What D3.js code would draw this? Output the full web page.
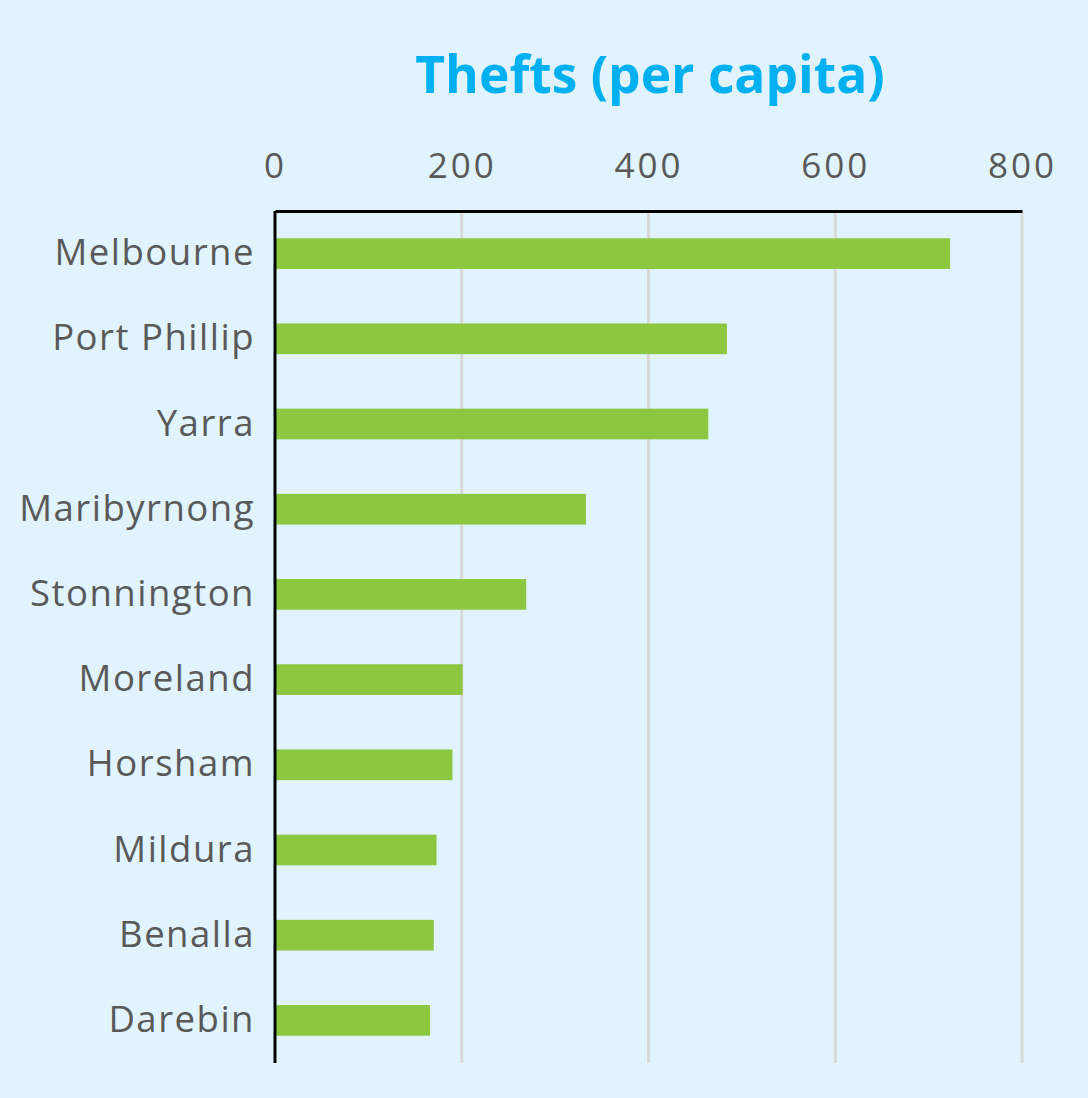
<!DOCTYPE html>
<html lang="en">
<head>
<meta charset="utf-8">
<title>Thefts (per capita)</title>
<script src="https://cdn.jsdelivr.net/npm/d3@7"></script>
<style>
  html, body { margin: 0; padding: 0; background: #e1f3fd; }
  svg { display: block; font-family: "Open Sans", Lato, sans-serif; }
</style>
</head>
<body>
<script>
// data
var councils = ["Melbourne", "Port Phillip", "Yarra", "Maribyrnong", "Stonnington",
                "Moreland", "Horsham", "Mildura", "Benalla", "Darebin"];
var thefts = [723, 484, 464, 333, 269, 201, 190, 173, 170, 166];
var ticks = [0, 200, 400, 600, 800];
var title = "Thefts (per capita)";

var W = 1088, H = 1098;
var m = { top: 211, right: 66, bottom: 35, left: 275 };

var svg = d3.select("body").append("svg")
  .attr("width", W)
  .attr("height", H);

svg.append("rect").attr("width", W).attr("height", H).attr("fill", "#e1f3fd");

var x = d3.scaleLinear().domain([0, 800]).range([m.left, W - m.right]);
var y = d3.scaleBand().domain(councils).range([m.top, H - m.bottom]).paddingInner(0.64).paddingOuter(0.32);

// gridlines
svg.append("g").selectAll("line")
  .data(ticks.slice(1))
  .enter().append("line")
  .attr("x1", function(d){ return x(d); })
  .attr("x2", function(d){ return x(d); })
  .attr("y1", m.top)
  .attr("y2", H - m.bottom)
  .attr("stroke", "#d9d9d9")
  .attr("stroke-width", 3);

// bars
svg.append("g").selectAll("rect")
  .data(councils)
  .enter().append("rect")
  .attr("x", x(0))
  .attr("y", function(d){ return y(d); })
  .attr("width", function(d, i){ return x(thefts[i]) - x(0); })
  .attr("height", y.bandwidth())
  .attr("fill", "#8dc63f");

// top axis
var xAxis = svg.append("g")
  .attr("transform", "translate(0," + m.top + ")")
  .call(d3.axisTop(x).tickValues(ticks).tickSize(0).tickPadding(33));
xAxis.select(".domain").attr("stroke", "#000").attr("stroke-width", 3);
xAxis.selectAll("text")
  .attr("fill", "#595959")
  .attr("font-size", "35px")
  .attr("letter-spacing", "3px")
  .attr("font-family", "'Open Sans', Lato, sans-serif");

// left axis
var yAxis = svg.append("g")
  .attr("transform", "translate(" + m.left + ",0)")
  .call(d3.axisLeft(y).tickSize(0).tickPadding(20));
yAxis.select(".domain").attr("stroke", "#000").attr("stroke-width", 3)
  .attr("d", "M0," + m.top + "V" + (H - m.bottom));
yAxis.selectAll("text")
  .attr("fill", "#595959")
  .attr("font-size", "36.5px")
  .attr("letter-spacing", "1.5px")
  .attr("font-family", "'Open Sans', Lato, sans-serif");

// title
svg.append("text")
  .attr("x", 650)
  .attr("y", 93)
  .attr("text-anchor", "middle")
  .attr("fill", "#00b0f0")
  .attr("font-size", "51.5px")
  .attr("font-weight", "bold")
  .text(title);
</script>
</body>
</html>
